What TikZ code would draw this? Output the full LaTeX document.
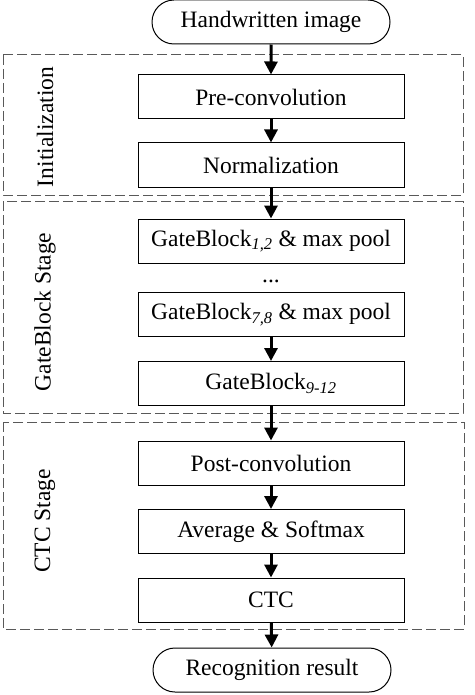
\documentclass[tikz,border=0pt]{standalone}
\usepackage{fontspec}
\setmainfont{Liberation Serif}
\usetikzlibrary{arrows.meta,shapes.misc}
\tikzset{>={Triangle[length=13pt,width=13pt]}}
\tikzset{
    block/.style={draw,line width=1pt,minimum width=266pt,minimum height=44pt,inner sep=0pt},
    terminal/.style={draw,rounded rectangle,line width=1pt,minimum width=238pt,minimum height=44pt,inner sep=0pt},
    stage/.style={draw=black!65,line width=1pt,dash pattern=on 10pt off 4pt},
    flow/.style={->,line width=3pt},
}

\begin{document}
\begin{tikzpicture}[x=1pt,y=1pt,font=\fontsize{23.5}{27}\selectfont]
            \useasboundingbox (0,0) rectangle (474,-695);
            % stages
            \draw[stage] (3,-55) rectangle (463,-195);
            \draw[stage] (3,-201) rectangle (463,-413);
            \draw[stage] (3,-422) rectangle (464,-629);
            \node[rotate=90] (lini)  at (45,-127) {Initialization};
            \node[rotate=90] (lgate) at (45,-312) {GateBlock Stage};
            \node[rotate=90] (lctc)  at (45,-521) {CTC Stage};
            % flow
            \node[terminal] (img)  at (271,-22)    {Handwritten image};
            \node[block]    (pre)  at (271,-97)    {Pre-convolution};
            \node[block]    (norm) at (271,-165)   {Normalization};
            \node[block]    (gb1)  at (271,-241)   {GateBlock\textsubscript{\textit{1,2}} \& max pool};
            \node           (dots) at (271,-281)   {...};
            \node[block]    (gb7)  at (271,-314.5) {GateBlock\textsubscript{\textit{7,8}} \& max pool};
            \node[block]    (gb9)  at (271,-383.5) {GateBlock\textsubscript{\textit{9-12}}};
            \node[block]    (post) at (271,-463)   {Post-convolution};
            \node[block]    (avg)  at (271,-531.5) {Average \& Softmax};
            \node[block]    (ctc)  at (271,-600)   {CTC};
            \node[terminal] (res)  at (272,-670)   {Recognition result};
            \draw[flow] (img) -- (pre);
            \draw[flow] (pre) -- (norm);
            \draw[flow] (norm) -- (gb1);
            \draw[flow] (gb7) -- (gb9);
            \draw[flow] (gb9) -- (post);
            \draw[flow] (post) -- (avg);
            \draw[flow] (avg) -- (ctc);
            \draw[flow] (ctc) -- (res);
        \end{tikzpicture}
\end{document}
